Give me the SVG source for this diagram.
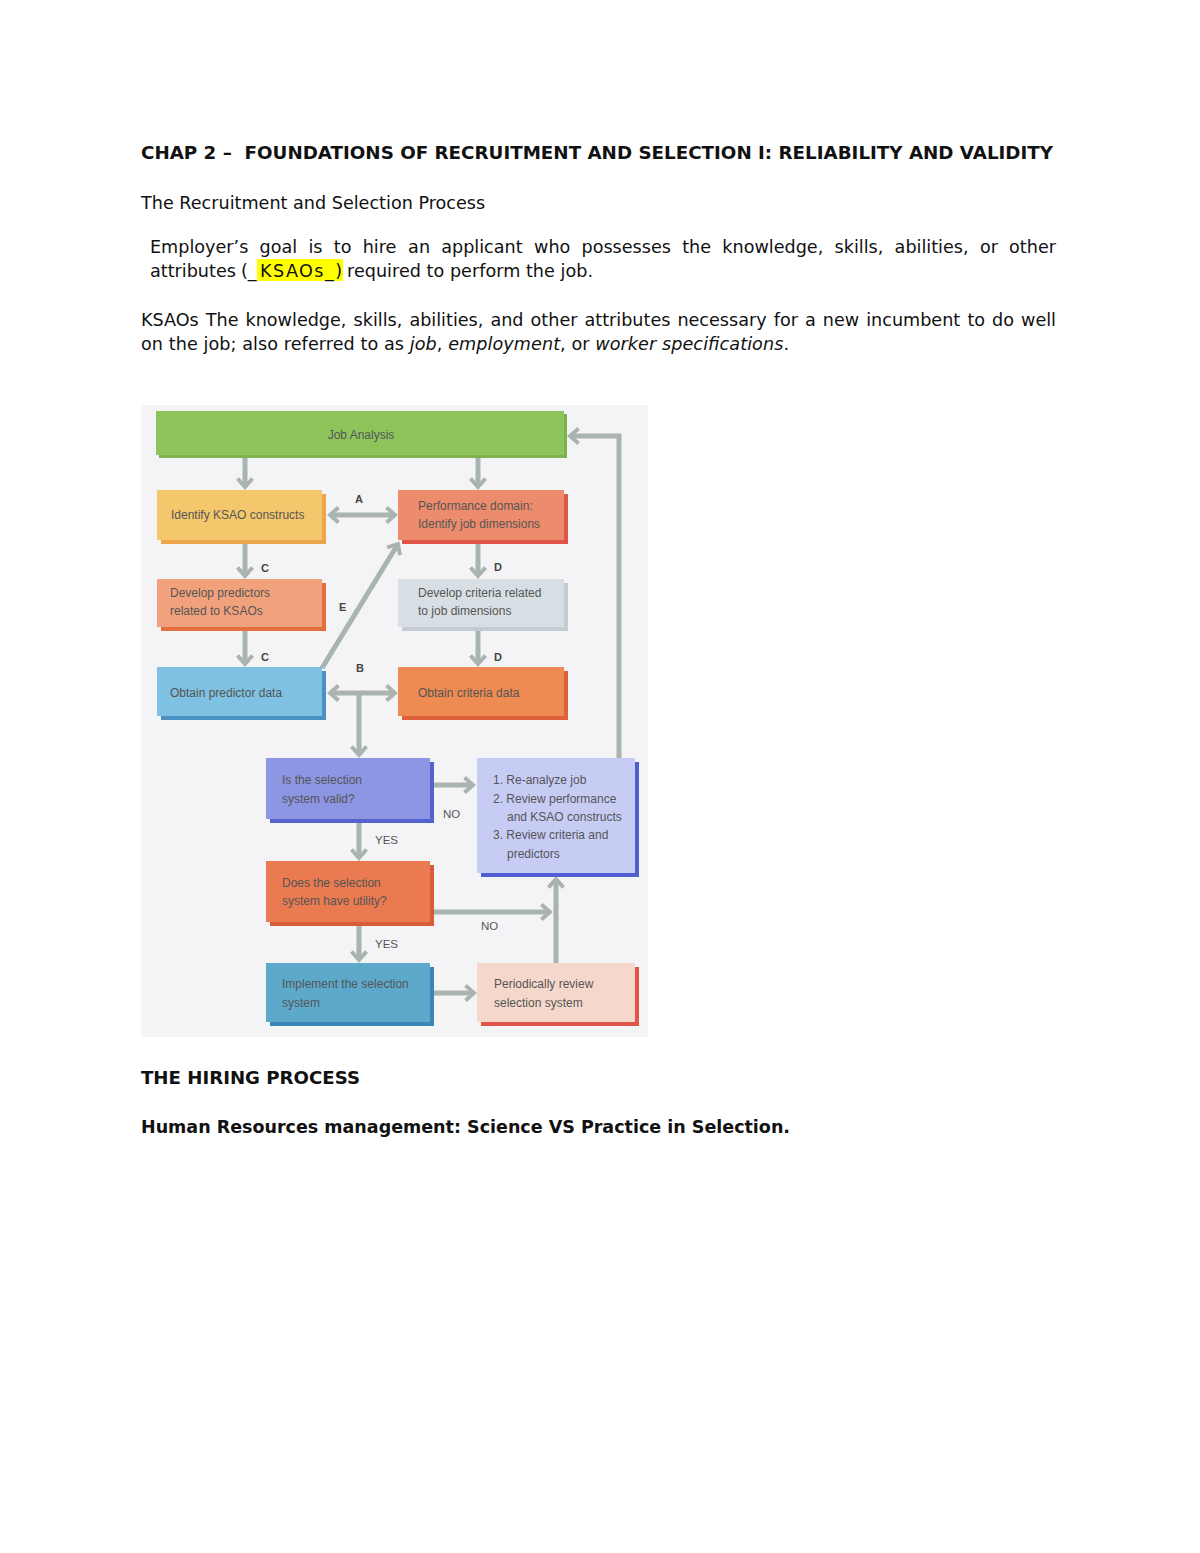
<svg xmlns="http://www.w3.org/2000/svg" width="1200" height="1553" viewBox="0 0 1200 1553">
<defs>
<style>
.body{font-family:"DejaVu Sans","Liberation Sans",sans-serif;font-size:17.6px;fill:#111}
.bold{font-family:"DejaVu Sans","Liberation Sans",sans-serif;font-size:17.6px;font-weight:bold;fill:#111}
.it{font-style:italic}
.bx{font-family:"Liberation Sans","Arial",sans-serif;font-size:12px;fill:#555}
.lbl{font-family:"Liberation Sans","Arial",sans-serif;font-size:11px;font-weight:bold;fill:#444}
.yn{font-family:"Liberation Sans","Arial",sans-serif;font-size:11.5px;fill:#555}
.con{fill:none;stroke:#a9b4af;stroke-width:5}
</style>
<marker id="ah" viewBox="0 0 13 18" refX="10" refY="9" markerWidth="13" markerHeight="18" markerUnits="userSpaceOnUse" orient="auto-start-reverse">
<path d="M1.5,1.5 L10,9 L1.5,16.5" fill="none" stroke="#a9b4af" stroke-width="4"/>
</marker>
</defs>
<rect width="1200" height="1553" fill="#ffffff"/>

<text class="bold" x="141" y="159" textLength="912" lengthAdjust="spacingAndGlyphs" xml:space="preserve">CHAP 2 –  FOUNDATIONS OF RECRUITMENT AND SELECTION I: RELIABILITY AND VALIDITY</text>
<text class="body" x="141" y="209">The Recruitment and Selection Process</text>

<text class="body" y="253"><tspan x="150">Employer’s</tspan><tspan x="259.6">goal</tspan><tspan x="308.4">is</tspan><tspan x="333.8">to</tspan><tspan x="362.7">hire</tspan><tspan x="408.1">an</tspan><tspan x="441.2">applicant</tspan><tspan x="534">who</tspan><tspan x="581.5">possesses</tspan><tspan x="682.2">the</tspan><tspan x="722.3">knowledge,</tspan><tspan x="834.6">skills,</tspan><tspan x="894.6">abilities,</tspan><tspan x="979.9">or</tspan><tspan x="1009.1">other</tspan></text>
<rect x="257" y="259" width="86" height="22" fill="#ffff00"/>
<text class="body" y="277"><tspan x="150">attributes</tspan><tspan x="241">(_</tspan><tspan x="260" textLength="82" lengthAdjust="spacing">KSAOs_)</tspan><tspan x="347" textLength="246" lengthAdjust="spacing">required to perform the job.</tspan></text>

<text class="body" y="326"><tspan x="141">KSAOs</tspan><tspan x="205.8">The</tspan><tspan x="245.5">knowledge,</tspan><tspan x="353.6">skills,</tspan><tspan x="409.4">abilities,</tspan><tspan x="490.4">and</tspan><tspan x="530.6">other</tspan><tspan x="584.5">attributes</tspan><tspan x="677.4">necessary</tspan><tspan x="773.8">for</tspan><tspan x="805">a</tspan><tspan x="822.8">new</tspan><tspan x="866.2">incumbent</tspan><tspan x="967.4">to</tspan><tspan x="992.1">do</tspan><tspan x="1021">well</tspan></text>
<text class="body" x="141" y="350" textLength="648" lengthAdjust="spacing">on the job; also referred to as <tspan class="it">job</tspan>, <tspan class="it">employment</tspan>, or <tspan class="it">worker specifications</tspan>.</text>

<rect x="141" y="405" width="507" height="632" fill="#f4f4f6"/>

<g id="connectors">
<line class="con" x1="245" y1="457" x2="245" y2="487" marker-end="url(#ah)"/>
<line class="con" x1="478" y1="457" x2="478" y2="487" marker-end="url(#ah)"/>
<line class="con" x1="330" y1="515" x2="395" y2="515" marker-start="url(#ah)" marker-end="url(#ah)"/>
<line class="con" x1="245" y1="543" x2="245" y2="576" marker-end="url(#ah)"/>
<line class="con" x1="478" y1="543" x2="478" y2="576" marker-end="url(#ah)"/>
<line class="con" x1="245" y1="630" x2="245" y2="664" marker-end="url(#ah)"/>
<line class="con" x1="478" y1="630" x2="478" y2="664" marker-end="url(#ah)"/>
<line class="con" x1="322" y1="668" x2="398" y2="544" marker-end="url(#ah)"/>
<line class="con" x1="330" y1="693" x2="395" y2="693" marker-start="url(#ah)" marker-end="url(#ah)"/>
<line class="con" x1="359" y1="693" x2="359" y2="755" marker-end="url(#ah)"/>
<line class="con" x1="434" y1="785" x2="473" y2="785" marker-end="url(#ah)"/>
<line class="con" x1="359" y1="823" x2="359" y2="858" marker-end="url(#ah)"/>
<line class="con" x1="434" y1="912" x2="550" y2="912" marker-end="url(#ah)"/>
<line class="con" x1="556" y1="963" x2="556" y2="879" marker-end="url(#ah)"/>
<line class="con" x1="359" y1="925" x2="359" y2="960" marker-end="url(#ah)"/>
<line class="con" x1="434" y1="993" x2="474" y2="993" marker-end="url(#ah)"/>
<polyline class="con" points="619,758 619,436 570,436" marker-end="url(#ah)"/>
<text class="lbl" x="355" y="503">A</text>
<text class="lbl" x="261" y="572">C</text>
<text class="lbl" x="494" y="571">D</text>
<text class="lbl" x="339" y="611">E</text>
<text class="lbl" x="261" y="661">C</text>
<text class="lbl" x="494" y="661">D</text>
<text class="lbl" x="356" y="672">B</text>
<text class="yn" x="443" y="818">NO</text>
<text class="yn" x="375" y="844">YES</text>
<text class="yn" x="481" y="930">NO</text>
<text class="yn" x="375" y="948">YES</text>
</g>

<g id="n-job">
<rect x="159" y="414" width="408" height="44" fill="#7db24e"/>
<rect x="156" y="411" width="408" height="44" fill="#8dc55c"/>
<text class="bx" x="361" y="439" text-anchor="middle" fill="#4d5a40">Job Analysis</text>
</g>
<g id="n-ksao">
<rect x="161" y="494" width="165" height="50" fill="#eda54c"/>
<rect x="157" y="490" width="165" height="50" fill="#f5c76c"/>
<text class="bx" x="171" y="519">Identify KSAO constructs</text>
</g>
<g id="n-perf">
<rect x="402" y="494" width="166" height="50" fill="#e0554a"/>
<rect x="398" y="490" width="166" height="50" fill="#ec8c6c"/>
<text class="bx" x="418" y="510">Performance domain:</text>
<text class="bx" x="418" y="528">Identify job dimensions</text>
</g>
<g id="n-devpred">
<rect x="161" y="583" width="165" height="48" fill="#e46f3e"/>
<rect x="157" y="579" width="165" height="48" fill="#f1a27c"/>
<text class="bx" x="170" y="597">Develop predictors</text>
<text class="bx" x="170" y="615">related to KSAOs</text>
</g>
<g id="n-devcrit">
<rect x="402" y="583" width="166" height="48" fill="#c4ccd2"/>
<rect x="398" y="579" width="166" height="48" fill="#d7dfe4"/>
<text class="bx" x="418" y="597">Develop criteria related</text>
<text class="bx" x="418" y="615">to job dimensions</text>
</g>
<g id="n-obtpred">
<rect x="161" y="671" width="165" height="49" fill="#4b92c2"/>
<rect x="157" y="667" width="165" height="49" fill="#7ec1e2"/>
<text class="bx" x="170" y="697">Obtain predictor data</text>
</g>
<g id="n-obtcrit">
<rect x="402" y="671" width="166" height="49" fill="#e0603c"/>
<rect x="398" y="667" width="166" height="49" fill="#ed8b52"/>
<text class="bx" x="418" y="697">Obtain criteria data</text>
</g>
<g id="n-valid">
<rect x="270" y="762" width="164" height="61" fill="#5362cc"/>
<rect x="266" y="758" width="164" height="61" fill="#8c96e2"/>
<text class="bx" x="282" y="784">Is the selection</text>
<text class="bx" x="282" y="803">system valid?</text>
</g>
<g id="n-review">
<rect x="481" y="762" width="158" height="115" fill="#4f5fd2"/>
<rect x="477" y="758" width="158" height="115" fill="#c7ccf5"/>
<text class="bx" x="493" y="784">1. Re-analyze job</text>
<text class="bx" x="493" y="803">2. Review performance</text>
<text class="bx" x="507" y="821">and KSAO constructs</text>
<text class="bx" x="493" y="839">3. Review criteria and</text>
<text class="bx" x="507" y="858">predictors</text>
</g>
<g id="n-utility">
<rect x="270" y="865" width="164" height="61" fill="#d85b3a"/>
<rect x="266" y="861" width="164" height="61" fill="#ea7a50"/>
<text class="bx" x="282" y="887">Does the selection</text>
<text class="bx" x="282" y="905">system have utility?</text>
</g>
<g id="n-implement">
<rect x="270" y="967" width="164" height="59" fill="#3a86b6"/>
<rect x="266" y="963" width="164" height="59" fill="#5ca9cc"/>
<text class="bx" x="282" y="988">Implement the selection</text>
<text class="bx" x="282" y="1007">system</text>
</g>
<g id="n-periodic">
<rect x="481" y="967" width="158" height="59" fill="#e0554a"/>
<rect x="477" y="963" width="158" height="59" fill="#f5d8cb"/>
<text class="bx" x="494" y="988">Periodically review</text>
<text class="bx" x="494" y="1007">selection system</text>
</g>

<text class="bold" x="141" y="1084" textLength="219" lengthAdjust="spacingAndGlyphs">THE HIRING PROCESS</text>
<text class="bold" x="141" y="1133" textLength="649" lengthAdjust="spacingAndGlyphs">Human Resources management: Science VS Practice in Selection.</text>
</svg>
